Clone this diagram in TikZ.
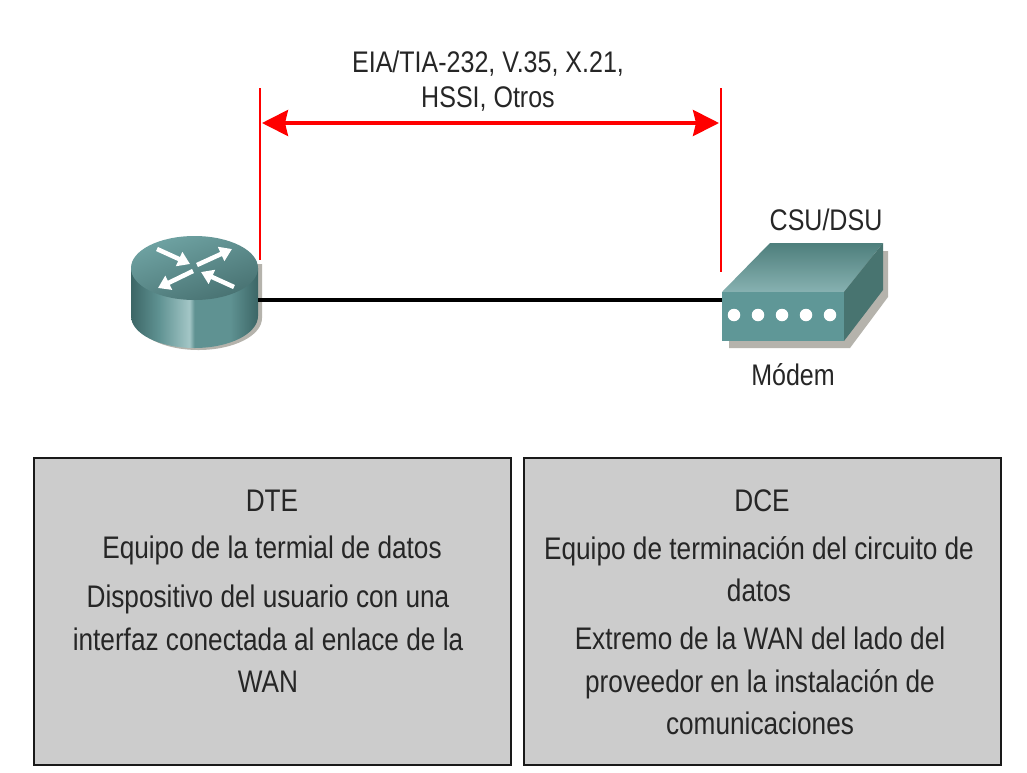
\documentclass[tikz,border=0pt]{standalone}
\usepackage{fontspec}
\setmainfont[FakeStretch=0.84]{Liberation Sans}
\usetikzlibrary{arrows.meta,positioning}
\definecolor{rbdark}{HTML}{3C6666}
\definecolor{rbmid}{HTML}{5F9292}
\definecolor{rblight}{HTML}{A3C6C6}
\definecolor{rtop}{HTML}{5A8E8E}
\definecolor{rtoplight}{HTML}{6FA3A3}
\definecolor{mfront}{HTML}{5F9797}
\definecolor{mtop}{HTML}{4E7F7C}
\definecolor{mside}{HTML}{487470}
\definecolor{boxgray}{HTML}{CCCCCC}
\definecolor{shadowgray}{HTML}{B5B3AC}
\pgfdeclarehorizontalshading{routerbody}{100bp}{color(0bp)=(rbdark);color(25bp)=(rbdark);color(36bp)=(rbmid);color(48bp)=(rblight);color(50bp)=(rbmid);color(64bp)=(rbmid);color(75bp)=(rbdark);color(100bp)=(rbdark)}
\begin{document}
\begin{tikzpicture}[x=1pt,y=-1pt,>={Stealth[length=26pt,width=26pt,inset=3pt]},
                    info box/.style={draw=black!90,line width=2pt,fill=boxgray,minimum width=477pt,minimum height=307pt,anchor=north west},
                    info text/.style={font=\fontsize{31.2}{42.5}\selectfont,align=center,text=black!85},
                    label/.style={font=\fontsize{29.8}{35}\selectfont,align=center,text=black!85},
                    led/.style={circle,fill=white,inner sep=0pt,minimum size=12.5pt},
                    port/.style={inner sep=0pt,minimum size=0pt},
                    flow/.style={-{Triangle[length=12pt,width=15pt]},white,line width=4.5pt}]
  \useasboundingbox (0,0) rectangle (1027,772);
  \fill[white] (0,0) rectangle (1027,772);

  % router
  \fill[shadowgray] (135,264) -- (135,318) arc[start angle=180,end angle=360,x radius=63.5,y radius=-32] -- (262,264) -- cycle;
  \shade[shading=routerbody] (131,268) -- (131,316) arc[start angle=180,end angle=360,x radius=63.5,y radius=-32] -- (258,268) -- cycle;
  \shade[left color=rtoplight,right color=rtop!80!black,shading angle=20] (194.5,268) ellipse[x radius=63.5,y radius=32];
  \coordinate (a1) at (157,249);
  \coordinate (a2) at (190,264);
  \coordinate (b1) at (197,265);
  \coordinate (b2) at (232,249);
  \coordinate (c1) at (193,271);
  \coordinate (c2) at (158,288);
  \coordinate (d1) at (234,287);
  \coordinate (d2) at (201,272);
  \draw[flow] (a1) -- (a2);
  \draw[flow] (b1) -- (b2);
  \draw[flow] (c1) -- (c2);
  \draw[flow] (d1) -- (d2);
  \node[port] (router) at (258,299.5) {};

  % modem
  \fill[shadowgray] (729,341) -- (729,348) -- (850,348) -- (888,297) -- (888,251) -- (880,251) -- cycle;
  \shade[top color=mtop,bottom color=mfront!75!white] (722,292) -- (770,243) -- (883,243) -- (844,292) -- cycle;
  \fill[mside] (844,292) -- (883,243) -- (883,290) -- (844,341) -- cycle;
  \fill[mfront] (722,292) rectangle (844,341);
  \foreach \i/\x in {1/734,2/758,3/782,4/806,5/830}
    \node[led] (led\i) at (\x,315) {};
  \node[port] (modem) at (722,299.5) {};

  \draw[line width=4pt] (router) -- (modem);

  % limites
  \coordinate (l1) at (260,88);
  \coordinate (l2) at (260,260);
  \coordinate (r1) at (721,88);
  \coordinate (r2) at (721,272);
  \coordinate (p1) at (262,123);
  \coordinate (p2) at (719,123);
  \draw[red,line width=1.5pt] (l1) -- (l2);
  \draw[red,line width=1.5pt] (r1) -- (r2);
  \draw[<->,red,line width=3.5pt] (p1) -- (p2);

  \node[label] (norma) at (488,81.5) {EIA/TIA-232, V.35, X.21,\\HSSI, Otros};
  \node[label,anchor=base] (csu) at (826,230) {CSU/DSU};
  \node[label,anchor=base] (mod) at (793,385) {Módem};

  % cuadros
  \node[info box] (dte) at (33,456.5) {};
  \node[info box] (dce) at (523,456.5) {};
  \node[info text,anchor=base] (t1) at (272,511) {DTE};
  \node[info text,anchor=base] (t2) at (272,558) {Equipo de la termial de datos};
  \node[info text] (t3) at (268,639) {Dispositivo del usuario con una\\interfaz conectada al enlace de la\\WAN};
  \node[info text,anchor=base] (t4) at (762,511) {DCE};
  \node[info text] (t5) at (759,569) {Equipo de terminación del circuito de\\datos};
  \node[info text] (t6) at (760,681) {Extremo de la WAN del lado del\\proveedor en la instalación de\\comunicaciones};
\end{tikzpicture}
\end{document}
